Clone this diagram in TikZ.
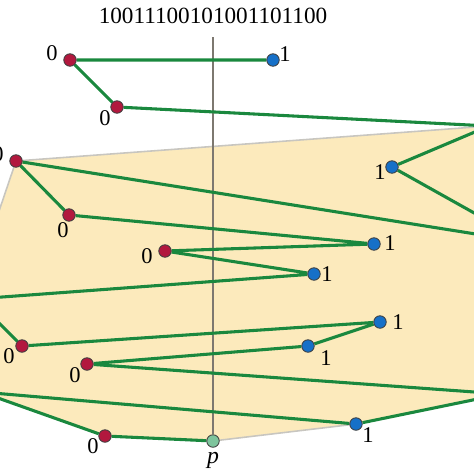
\documentclass[tikz,border=0pt]{standalone}
\usepackage{fontspec}
\setmainfont{Liberation Serif}
\usetikzlibrary{positioning, backgrounds}

\definecolor{dotred}{RGB}{178,24,62}
\definecolor{dotblue}{RGB}{22,112,200}
\definecolor{dotgreen}{RGB}{125,196,156}
\definecolor{edgegreen}{RGB}{26,136,62}
\definecolor{hullfill}{RGB}{252,234,188}
\definecolor{hullgray}{RGB}{200,198,192}
\definecolor{axisgray}{RGB}{125,120,112}

\begin{document}
\begin{tikzpicture}[
    x=0.02cm, y=-0.02cm,
    every node/.style={font=\fontsize{12.8}{15}\selectfont, text=black},
    dot/.style={circle, inner sep=0pt, minimum size=0.25cm,
      draw=black!75, line width=0.5pt},
    zero/.style={dot, fill=dotred},
    one/.style={dot, fill=dotblue},
    apex/.style={dot, fill=dotgreen},
    lab/.style={inner sep=0pt},
    edge/.style={draw=edgegreen, line width=1.75pt},
    hull/.style={draw=hullgray, line width=0.9pt},
    axis/.style={draw=axisgray, line width=0.6pt}
  ]
    \useasboundingbox (0,0) rectangle (474,474);
    \clip (0,0) rectangle (474,474);

    % bit string on top
    \node[font=\fontsize{13.2}{15}\selectfont] (bits) at (213,16)
      {10011100101001101100};
    \coordinate (top) at (213,37);

    % points outside the frame
    \coordinate (R1) at (489,126);
    \coordinate (R2) at (526,242);
    \coordinate (R3) at (502,394);
    \coordinate (L0) at (-40,326);
    \coordinate (L1) at (-25,299);
    \coordinate (L3) at (-19,392);

    % zeros
    \node[zero] (A) at (70,60) {};
    \node[zero] (B) at (117,107) {};
    \node[zero] (C) at (16,161) {};
    \node[zero] (D) at (69,215) {};
    \node[zero] (E) at (165,251) {};
    \node[zero] (F) at (22,346) {};
    \node[zero] (G) at (87,364) {};
    \node[zero] (H) at (105,436) {};

    % ones
    \node[one] (a) at (273,60) {};
    \node[one] (b) at (392,167) {};
    \node[one] (c) at (374,244) {};
    \node[one] (d) at (314,274) {};
    \node[one] (e) at (380,322) {};
    \node[one] (f) at (308,346) {};
    \node[one] (g) at (356,424) {};

    \node[apex] (p) at (213,441) {};

    % labels
    \node[lab] (lA) at (52,53) {0};
    \node[lab] (lB) at (105,118) {0};
    \node[lab] (lC) at (-2,154) {0};
    \node[lab] (lD) at (63,230) {0};
    \node[lab] (lE) at (147,256) {0};
    \node[lab] (lF) at (9,356) {0};
    \node[lab] (lG) at (75,375) {0};
    \node[lab] (lH) at (93,446) {0};
    \node[lab] (la) at (285,54) {1};
    \node[lab] (lb) at (380,172) {1};
    \node[lab] (lc) at (390,243) {1};
    \node[lab] (ld) at (327,274) {1};
    \node[lab] (le) at (398,322) {1};
    \node[lab] (lf) at (326,358) {1};
    \node[lab] (lg) at (368,435) {1};
    \node[lab, font=\fontsize{13.5}{15}\selectfont\itshape] (lp) at (213,460) {p};

    \begin{scope}[on background layer]
      % shaded hull
      \fill[hullfill] (C.center) -- (R1) -- (R2) -- (R3) -- (g.center)
        -- (p.center) -- (H.center) -- (L3) -- (L0) -- cycle;
      \draw[hull] (L0) -- (C.center) -- (R1);
      \draw[hull] (p.center) -- (g.center);
      \draw[axis] (top) -- (p);

      % path through the points
      \draw[edge] (a) -- (A) -- (B) -- (R1) -- (b) -- (R2) -- (C)
        -- (D) -- (c) -- (E) -- (d) -- (L1) -- (F) -- (e) -- (f)
        -- (G) -- (R3) -- (g) -- (L3) -- (H) -- (p);
    \end{scope}

  \end{tikzpicture}
\end{document}
